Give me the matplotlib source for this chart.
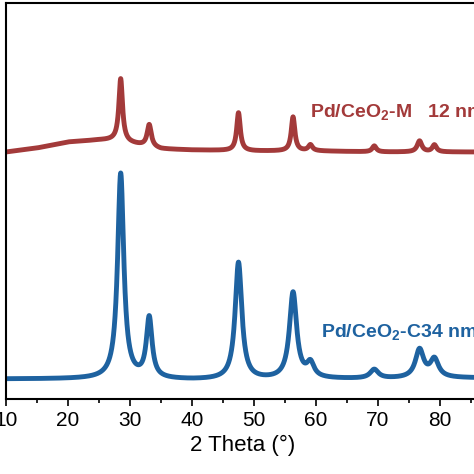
import matplotlib.pyplot as plt
import numpy as np

plt.rcParams['font.family'] = 'Liberation Sans'
plt.rcParams['mathtext.fontset'] = 'custom'
plt.rcParams['mathtext.rm'] = 'Liberation Sans'
plt.rcParams['mathtext.bf'] = 'Liberation Sans:bold'

# peak positions (2 theta), heights and half widths
pos_m = [28.5, 33.1, 47.5, 56.3, 59.1, 69.4, 76.7, 79.1]
hgt_m = [62, 22, 38, 34, 6, 6, 11, 7]
wid_m = [0.35, 0.4, 0.35, 0.35, 0.4, 0.4, 0.45, 0.4]
base_x_m = [10, 15, 20, 25, 28, 30, 35, 40, 50, 60, 70, 80, 86]
base_y_m = [152, 148, 142, 140, 140, 143, 149, 150, 151, 151, 152, 152, 152]

pos_c = [28.5, 33.1, 47.5, 56.3, 59.1, 69.4, 76.7, 79.1]
hgt_c = [205, 60, 117, 86, 14, 9, 28, 18]
wid_c = [0.6, 0.55, 0.65, 0.7, 0.7, 0.8, 0.8, 0.8]
base_x_c = [10, 20, 30, 40, 50, 60, 70, 80, 86]
base_y_c = [379, 379, 379, 380, 380, 379, 379, 378, 378]

red = '#A33A3A'
blue = '#1E62A0'

def trace(x, pos, hgt, wid, bx, by):
    y = np.interp(x, bx, by)
    for p, h, w in zip(pos, hgt, wid):
        y = y - h / (1 + ((x - p) / w) ** 2)
    return y

x = np.linspace(10, 86, 3000)

fig = plt.figure(figsize=(4.74, 4.74), dpi=100)
ax = fig.add_axes([6 / 474, 1 - 399 / 474, 1.0, 396 / 474])

ax.plot(x, trace(x, pos_m, hgt_m, wid_m, base_x_m, base_y_m), color=red, lw=3.5)
ax.plot(x, trace(x, pos_c, hgt_c, wid_c, base_x_c, base_y_c), color=blue, lw=3.5)

ax.set_xlim(10, 10 + 474 / 6.2)
ax.set_ylim(399, 3)
ax.set_yticks([])
ax.set_xticks(range(10, 90, 10))
ax.set_xticks(range(15, 90, 10), minor=True)
ax.tick_params(axis='x', which='major', direction='out', length=5, width=1.2, labelsize=15)
ax.tick_params(axis='x', which='minor', direction='out', length=3, width=1.2)
for s in ax.spines.values():
    s.set_linewidth(1.5)
ax.set_xlabel('2 Theta (°)', fontsize=16)

ax.text(59.0, 113, 'Pd/CeO$_\\mathbf{2}$-M   12 nm', color=red, fontsize=14, fontweight='bold', va='center')
ax.text(60.8, 333, 'Pd/CeO$_\\mathbf{2}$-C34 nm', color=blue, fontsize=14, fontweight='bold', va='center')

fig.savefig('out.png', dpi=100)
